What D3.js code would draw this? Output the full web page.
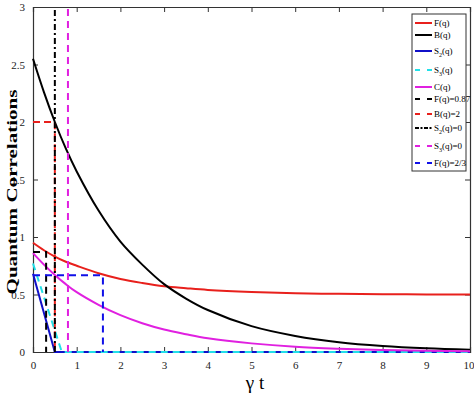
<!DOCTYPE html>
<html><head><meta charset="utf-8">
<script src="https://cdn.jsdelivr.net/npm/d3@7"></script>
<style>body{margin:0;background:#fff}svg{display:block}text{font-family:"Liberation Serif","Times New Roman",serif}</style>
</head><body><svg id="c" width="474" height="395"></svg>
<script>
// Data
const tVals = [0, 0.25, 0.5, 0.75, 1, 1.5, 2, 2.5, 3, 3.5, 4, 5, 6, 7, 8, 9, 10];
const Fq = [0.95, 0.885, 0.83, 0.785, 0.75, 0.685, 0.635, 0.6, 0.572, 0.555, 0.54, 0.522, 0.511, 0.506, 0.503, 0.501, 0.5];
const Bq = [2.55, 2.26, 2.0, 1.77, 1.57, 1.23, 0.96, 0.76, 0.59, 0.465, 0.365, 0.225, 0.14, 0.085, 0.052, 0.032, 0.02];
const Cq = [0.86, 0.76, 0.67, 0.59, 0.52, 0.41, 0.32, 0.25, 0.195, 0.155, 0.12, 0.075, 0.045, 0.028, 0.017, 0.01, 0.006];
const S2t = [0, 0.5, 10];
const S2q = [0.68, 0, 0];
const S3t = [0, 0.66, 10];
const S3q = [0.77, 0, 0];
// reference markers: [t, value]
const refF087 = [0.3, 0.87];
const refB2 = [0.5, 2];
const refS2zero = 0.5;
const refS3zero = 0.8;
const refF23 = [1.6, 0.667];
const xTicks = [0,1,2,3,4,5,6,7,8,9,10];
const yTicks = [0,0.5,1,1.5,2,2.5,3];
const legendLabels = [
  ["F","(q)",""],["B","(q)",""],["S","(q)","2"],["S","(q)","3"],["C","(q)",""],
  ["F","(q)=0.87",""],["B","(q)=2",""],["S","(q)=0","2"],["S","(q)=0","3"],["F","(q)=2/3",""]
];

const svg = d3.select("#c");
const L=33, R=470, T=7, B=352;
const x = d3.scaleLinear().domain([0,10]).range([L,R]);
const y = d3.scaleLinear().domain([0,3]).range([B,T]);

// axes with inward ticks (drawn first, data on top)
const ax = svg.append("g");
const bx = ax.append("g").attr("transform",`translate(0,${B})`).call(d3.axisBottom(x).tickValues(xTicks).tickSize(-5).tickPadding(9).tickFormat(d3.format("d")));
bx.selectAll(".tick text").filter(d=>d===10).attr("text-anchor","end").attr("dx",4);
ax.append("g").attr("transform",`translate(0,${T})`).call(d3.axisTop(x).tickValues(xTicks).tickSize(-5).tickFormat(""));
ax.append("g").attr("transform",`translate(${L},0)`).call(d3.axisLeft(y).tickValues(yTicks).tickSize(-5).tickPadding(8).tickFormat(d=>d));
ax.append("g").attr("transform",`translate(${R},0)`).call(d3.axisRight(y).tickValues(yTicks).tickSize(-5).tickFormat(""));
ax.selectAll(".domain").attr("stroke","#333").attr("stroke-width",1.2);
ax.selectAll(".tick line").attr("stroke","#333");
ax.selectAll(".tick text").attr("font-family","Liberation Serif, serif").attr("font-size",11).attr("fill","#222");

const g = svg.append("g");
const line = d3.line().x(d=>x(d[0])).y(d=>y(d[1]));
const curve = d3.line().x(d=>x(d[0])).y(d=>y(d[1])).curve(d3.curveCatmullRom.alpha(0.5));

const styles = [
  {c:"#e8201c", d:null},
  {c:"#000000", d:null},
  {c:"#1010c8", d:null},
  {c:"#22e0e8", d:"7,5"},
  {c:"#e020e0", d:null},
  {c:"#000000", d:"7,5"},
  {c:"#e8201c", d:"7,4"},
  {c:"#000000", d:"6,3,2,3"},
  {c:"#e020e0", d:"7,5"},
  {c:"#1010e8", d:"7,5"}
];

function path(pts, st, interp){
  g.append("path").attr("d",(interp?curve:line)(pts)).attr("fill","none")
   .attr("stroke",st.c).attr("stroke-width",2).attr("stroke-dasharray",st.d);
}
path(tVals.map((t,i)=>[t,Fq[i]]), styles[0], true);
path(tVals.map((t,i)=>[t,Bq[i]]), styles[1], true);
path(S2t.map((t,i)=>[t,S2q[i]]), styles[2], false);
path(S3t.map((t,i)=>[t,S3q[i]]), styles[3], false);
path(tVals.map((t,i)=>[t,Cq[i]]), styles[4], true);
path([[0,refF087[1]],[refF087[0],refF087[1]],[refF087[0],0]], styles[5], false);
path([[0,refB2[1]],[refB2[0],refB2[1]],[refB2[0],0]], styles[6], false);
path([[refS2zero,0],[refS2zero,3]], styles[7], false);
path([[refS3zero,0],[refS3zero,3]], styles[8], false);
path([[0,refF23[1]],[refF23[0],refF23[1]],[refF23[0],0]], styles[9], false);

// axis titles
svg.append("text").attr("transform",`translate(17,192) rotate(-90)`).attr("text-anchor","middle")
  .attr("font-weight","bold").attr("font-size",14).attr("textLength",205).attr("lengthAdjust","spacingAndGlyphs")
  .text("Quantum Correlations");
svg.append("text").attr("x",255).attr("y",389).attr("text-anchor","middle").attr("font-size",19)
  .text("γ t");

// legend
const lg = svg.append("g");
lg.append("rect").attr("x",412).attr("y",14).attr("width",54).attr("height",157).attr("fill","#fff").attr("stroke","#333").attr("stroke-width",1);
const ly = [23,35,51,70,87,99,114,128,146,163];
legendLabels.forEach((lab,i)=>{
  const st = styles[i];
  lg.append("line").attr("x1",415).attr("x2",432).attr("y1",ly[i]).attr("y2",ly[i])
    .attr("stroke",st.c).attr("stroke-width",2).attr("stroke-dasharray",st.d ? (i===7?"4,1.5,2,1.5":"5,7") : null);
  const t = lg.append("text").attr("x",434).attr("y",ly[i]+3).attr("font-size",9);
  t.append("tspan").text(lab[0]);
  if(lab[2]) t.append("tspan").attr("font-size",6).attr("dy",3).text(lab[2]);
  t.append("tspan").attr("dy",lab[2]?-3:0).text(lab[1]);
});
</script></body></html>
